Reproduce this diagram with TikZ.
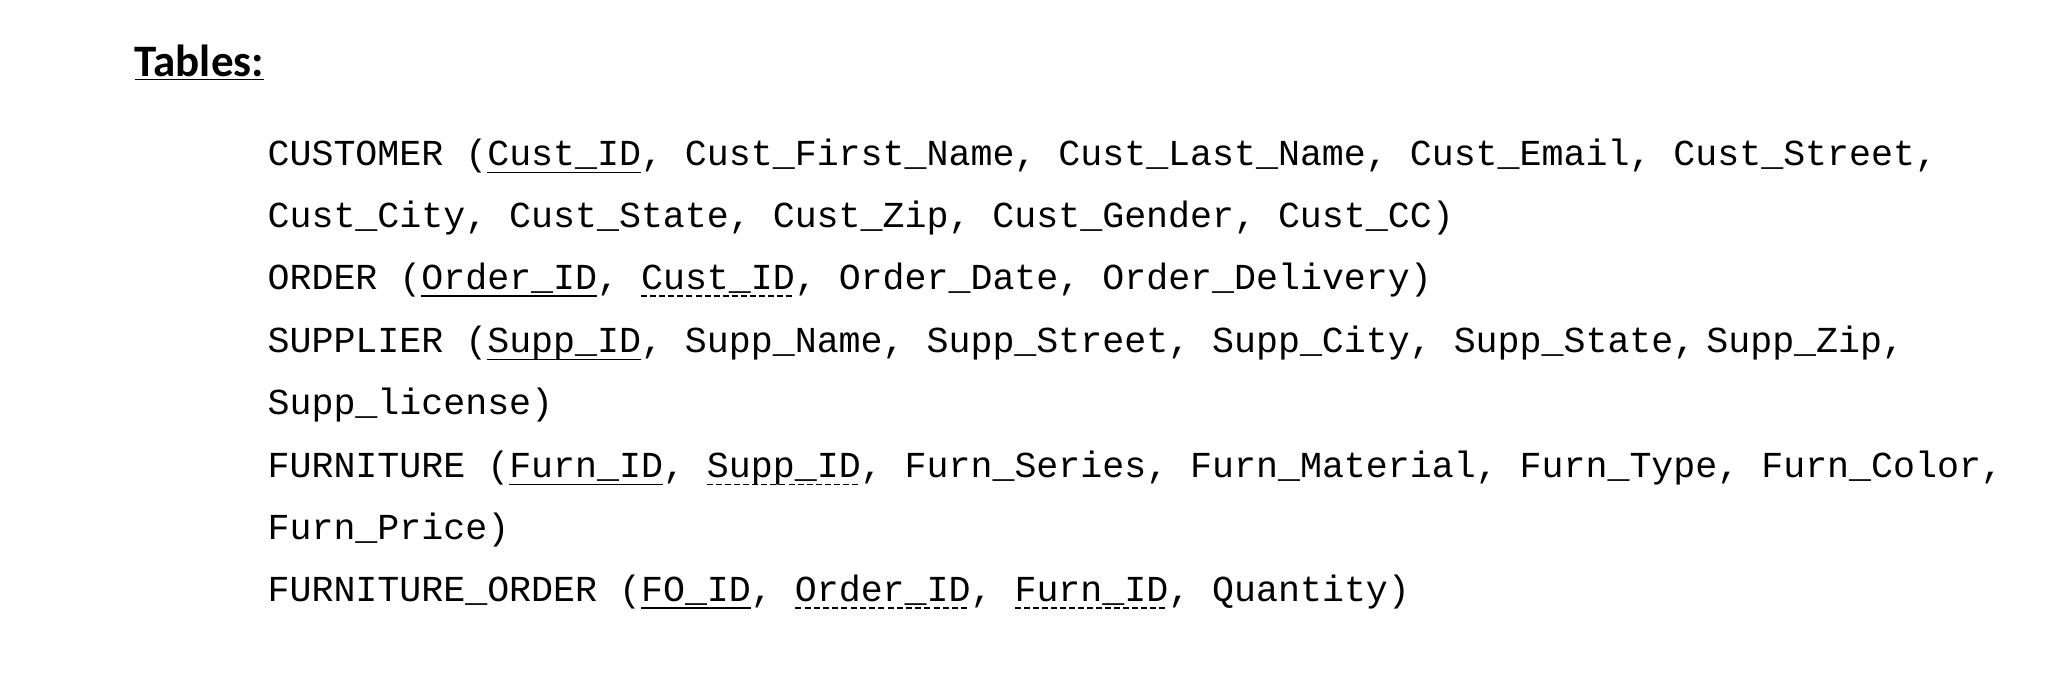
\documentclass[tikz,border=0pt]{standalone}
\usepackage{fontspec}
\setmonofont{Liberation Mono}
\newfontfamily\hdfont{Carlito}
\newcommand{\pk}[1]{\setbox0\hbox{#1}\rlap{\raisebox{-3.6pt}{\rule{\wd0}{0.7pt}}}\box0}
\newcommand{\fk}[1]{\setbox0\hbox{#1}\rlap{\raisebox{-3.6pt}{\hbox to \wd0{\xleaders\hbox{\rule{3pt}{0.7pt}\hspace{1.4pt}}\hfill}}}\box0}
\begin{document}
\begin{tikzpicture}[x=0.658pt,y=-0.658pt,
  row/.style={anchor=base west,inner sep=0pt,font=\ttfamily\fontsize{18.3}{20}\selectfont}]
\useasboundingbox (0,0) rectangle (1568,512);
\node[anchor=base west,inner sep=0pt,font=\hdfont\bfseries\fontsize{22.5}{26}\selectfont] (hd) at (102,58) {\underline{Tables:}};
\node[row] (l1) at (203,126) {CUSTOMER (\pk{Cust\_ID}, Cust\_First\_Name, Cust\_Last\_Name, Cust\_Email, Cust\_Street,};
\node[row] (l2) at (203,173) {Cust\_City, Cust\_State, Cust\_Zip, Cust\_Gender, Cust\_CC)};
\node[row] (l3) at (203,220) {ORDER (\pk{Order\_ID}, \fk{Cust\_ID}, Order\_Date, Order\_Delivery)};
\node[row] (l4) at (203,268) {SUPPLIER (\pk{Supp\_ID}, Supp\_Name, Supp\_Street, Supp\_City, Supp\_State,\hspace{-0.3em} Supp\_Zip,};
\node[row] (l5) at (203,315) {Supp\_license)};
\node[row] (l6) at (203,363) {FURNITURE (\pk{Furn\_ID}, \fk{Supp\_ID}, Furn\_Series, Furn\_Material, Furn\_Type, Furn\_Color,};
\node[row] (l7) at (203,410) {Furn\_Price)};
\node[row] (l8) at (203,457) {FURNITURE\_ORDER (\pk{FO\_ID}, \fk{Order\_ID}, \fk{Furn\_ID}, Quantity)};
\end{tikzpicture}
\end{document}
